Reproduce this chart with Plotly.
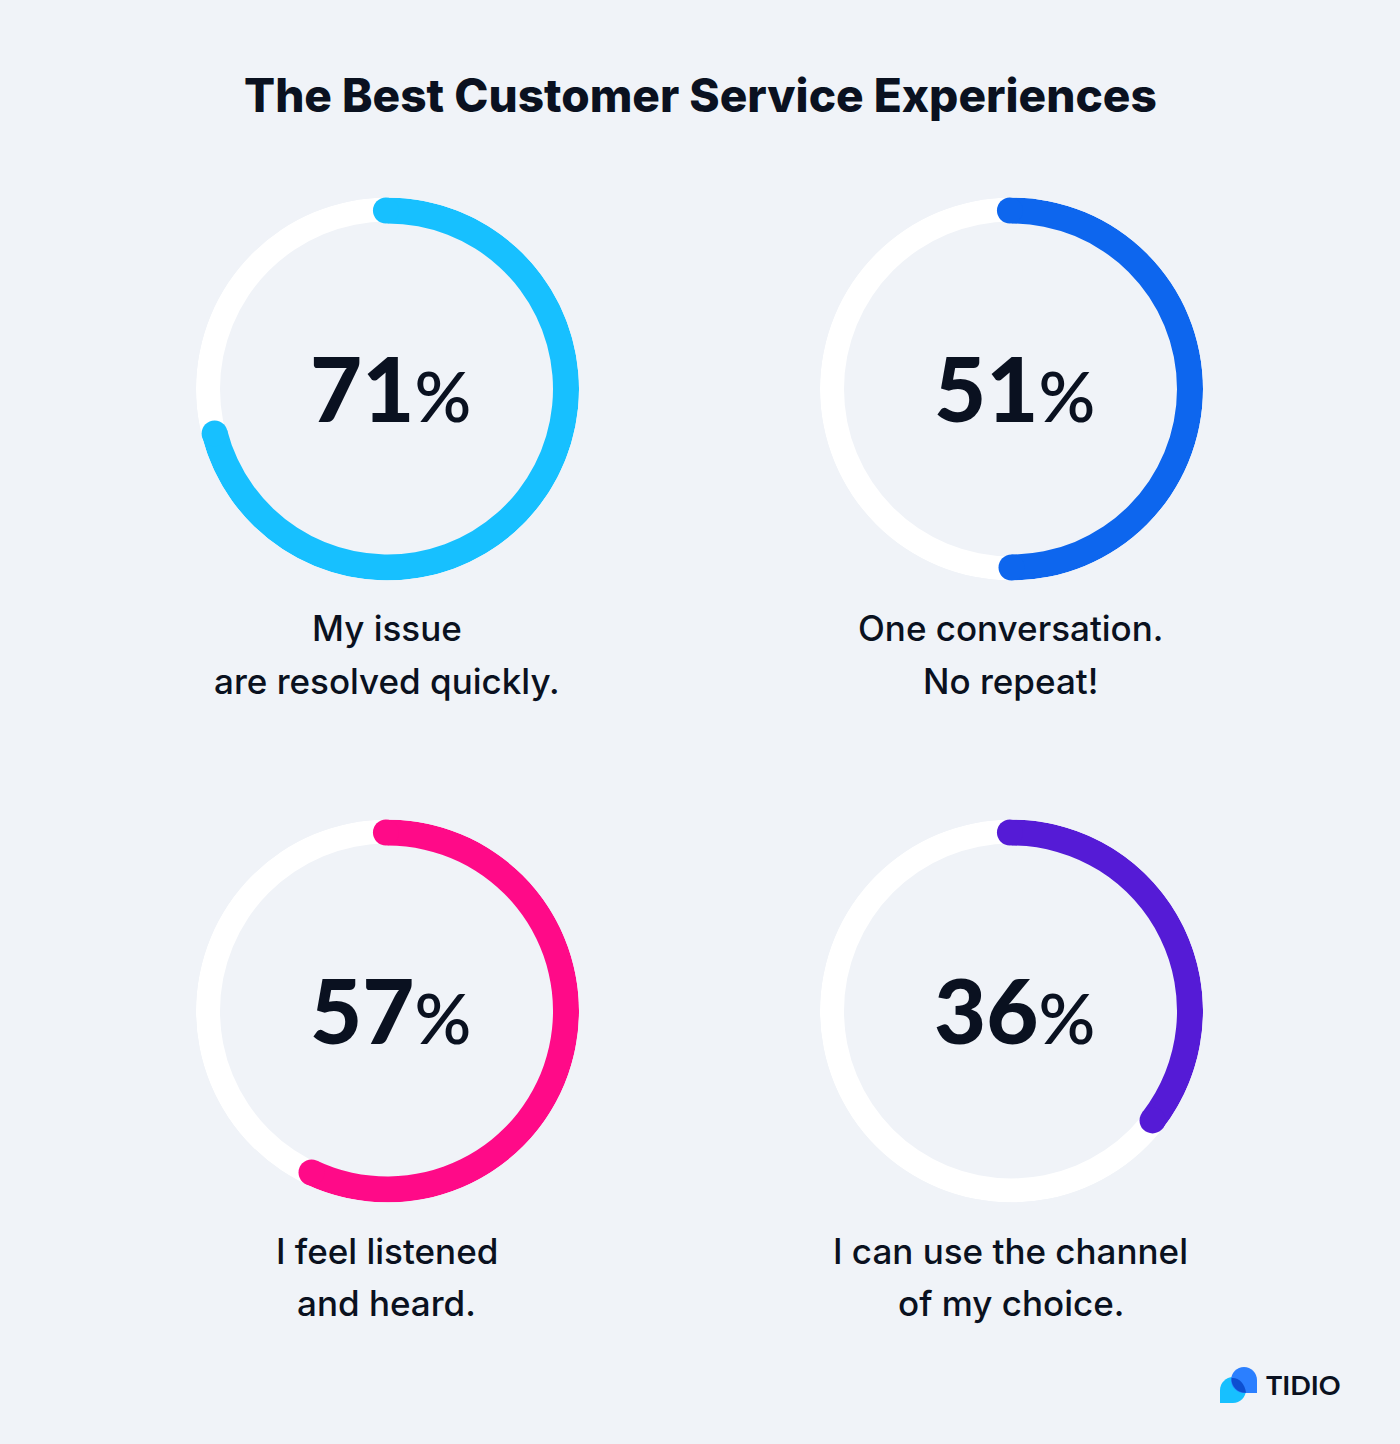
import plotly.graph_objects as go

W, H = 1400, 1444
BG = "#f0f3f8"
INK = "#0a1120"
NUM_FONT = "Lato"
TEXT_FONT = "Inter"

title = "The Best Customer Service Experiences"
values = [71, 51, 57, 36]
# share of the ring actually drawn in the picture, read from the arc ends
arc_shares = [71, 50, 57, 35.5]
colors = ["#17c0ff", "#0d66ee", "#ff0a88", "#551bd6"]
captions = [
    ["My issue", "are resolved quickly."],
    ["One conversation.", "No repeat!"],
    ["I feel listened", "and heard."],
    ["I can use the channel", "of my choice."],
]
centers = [(387.5, 389), (1011.5, 389), (387.5, 1011), (1011.5, 1011)]
R_OUT, R_IN = 191.5, 165.5
R_WHITE_OUT, R_WHITE_IN = 191.5, 167.5


def px(x):
    return x / W


def py(y):
    return 1 - y / H


def domain(cx, cy, r):
    return dict(x=[px(cx - r), px(cx + r)], y=[py(cy + r), py(cy - r)])


fig = go.Figure()
polars = {}
annotations = []
for i, (val, share, col, cap, (cx, cy)) in enumerate(zip(values, arc_shares, colors, captions, centers)):
    name = "polar" if i == 0 else f"polar{i + 1}"
    polars[name] = dict(domain=domain(cx, cy, R_OUT), bgcolor="rgba(0,0,0,0)",
                        radialaxis=dict(visible=False, range=[0, R_OUT]),
                        angularaxis=dict(visible=False, rotation=90, direction="clockwise"))
    fig.add_trace(go.Barpolar(r=[R_WHITE_OUT - R_WHITE_IN], base=[R_WHITE_IN], theta=[180], width=[360],
                              subplot=name, showlegend=False, hoverinfo="skip",
                              marker=dict(color="#ffffff", line=dict(width=0))))
    fig.add_trace(go.Barpolar(r=[R_OUT - R_IN], base=[R_IN], theta=[share * 1.8], width=[share * 3.6],
                              subplot=name, showlegend=False, hoverinfo="skip",
                              marker=dict(color=col, line=dict(width=0))))
    fig.add_trace(go.Scatterpolar(r=[(R_OUT + R_IN) / 2] * 2, theta=[-0.5, share * 3.6],
                                  mode="markers", subplot=name, showlegend=False, hoverinfo="skip",
                                  marker=dict(size=R_OUT - R_IN, color=col, line=dict(width=0))))
    annotations.append(dict(
        x=px(cx + 3), y=py(cy - 2), xref="paper", yref="paper", showarrow=False,
        xanchor="center", yanchor="middle",
        text=f"<span style='font-weight:900'>{val}</span>"
             f"<span style='font-size:70px;font-weight:600'>%</span>",
        font=dict(family=NUM_FONT, size=90, color=INK)))
    for j, line in enumerate(cap):
        annotations.append(dict(
            x=px(cx - 1), y=py(cy + 239.5 + 52 * j), xref="paper", yref="paper", showarrow=False,
            xanchor="center", yanchor="middle", text=line,
            font=dict(family=TEXT_FONT, size=35, color=INK, weight=500)))

annotations.append(dict(x=px(700.5), y=py(95), xref="paper", yref="paper", showarrow=False,
                        xanchor="center", yanchor="middle", text=title,
                        font=dict(family=TEXT_FONT, size=46, color=INK, weight=800)))
annotations.append(dict(x=px(1303), y=py(1384.5), xref="paper", yref="paper", showarrow=False,
                        xanchor="center", yanchor="middle", text="TIDIO",
                        font=dict(family=NUM_FONT, size=27, color=INK, weight=700)))


def svg(cmds):
    out = []
    for c in cmds:
        out.append(c[0] + " ".join(f"{px(c[k]):.5f},{py(c[k + 1]):.5f}" for k in range(1, len(c), 2)))
    return " ".join(out) + " Z"


logo = [
    ("#17c0ff", [("M", 1220, 1403), ("L", 1220, 1390),
                 ("C", 1220, 1383, 1226, 1377, 1233, 1377),
                 ("C", 1240, 1377, 1246, 1383, 1246, 1390),
                 ("C", 1246, 1397, 1240, 1403, 1233, 1403)]),
    ("#2b7fff", [("M", 1257, 1393), ("L", 1244, 1393),
                 ("C", 1237, 1393, 1231, 1387, 1231, 1380),
                 ("C", 1231, 1373, 1237, 1367, 1244, 1367),
                 ("C", 1251, 1367, 1257, 1373, 1257, 1380)]),
    ("#0d4fd0", [("M", 1231.5, 1378), ("C", 1238, 1377, 1245, 1383, 1246, 1392.8),
                 ("C", 1238, 1393, 1231, 1387, 1231.5, 1378)]),
]
shapes = [dict(type="path", xref="paper", yref="paper", path=svg(c), fillcolor=f,
               line=dict(width=0), layer="above") for f, c in logo]

fig.update_layout(width=W, height=H, margin=dict(l=0, r=0, t=0, b=0), autosize=False,
                  paper_bgcolor=BG, plot_bgcolor=BG, annotations=annotations, shapes=shapes,
                  showlegend=False, **polars)
fig.write_html("out.html", config=dict(displayModeBar=False),
               post_script="document.body.style.margin='0';")
